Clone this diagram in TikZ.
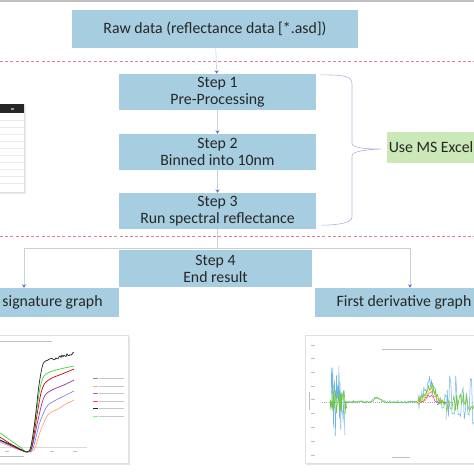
\documentclass[tikz,border=0pt]{standalone}
\usepackage{fontspec}
\setmainfont{Carlito}
\usetikzlibrary{arrows.meta, positioning, calc}
\definecolor{stepblue}{RGB}{166,206,224}
\definecolor{excelgreen}{RGB}{202,232,184}
\definecolor{cutred}{RGB}{226,128,136}
\definecolor{linkgray}{RGB}{200,208,222}
\definecolor{tipblue}{RGB}{92,112,212}
\definecolor{bracelilac}{RGB}{178,178,228}
\definecolor{noiseblue}{RGB}{110,180,225}
\definecolor{noisegreen}{RGB}{110,200,60}

\begin{document}
\begin{tikzpicture}[
		x=1pt, y=-1pt,
		>=Stealth,
		font=\fontsize{15.8}{17}\selectfont,
		% Flowchart node styles
		stepbox/.style={
			fill=stepblue, text=black!85,
			align=center, inner sep=0pt,
			minimum width=197pt, minimum height=36pt
		},
		resultbox/.style={
			fill=stepblue, text=black!85,
			inner sep=0pt, minimum height=29pt
		},
		excelbox/.style={
			fill=excelgreen, text=black!85,
			inner sep=0pt, minimum width=88pt, minimum height=31pt
		},
		arrow/.style={draw=linkgray, line width=0.6pt,
			-{Stealth[length=3.5pt, width=4pt, color=tipblue]}},
		cutline/.style={draw=cutred, line width=0.7pt, dash pattern=on 3pt off 2.2pt},
		thumb/.style={fill=white, draw=black!12, line width=0.5pt},
		fakelabel/.style={draw=black!25, line width=0.9pt}
	]

	\useasboundingbox (0,0) rectangle (474,474);
	\fill[black!25] (0,0) rectangle (474,2);

	% Nodes (top to bottom)
	\node[stepbox, minimum width=286pt, minimum height=38pt] (raw) at (215,29)
		{Raw data (reflectance data [*.asd])};
	\node[stepbox] (step1) at (217.5,92) {Step 1\\Pre-Processing};
	\node[stepbox] (step2) at (217.5,152) {Step 2\\Binned into 10nm};
	\node[stepbox] (step3) at (217.5,211) {Step 3\\Run spectral reflectance};
	\node[stepbox, minimum width=193pt, minimum height=37pt] (step4) at (215.5,268.5)
		{Step 4\\End result};

	\node[resultbox, minimum width=133pt] (sig) at (52.5,302.5) {signature graph};
	\node[resultbox, minimum width=178pt] (deriv) at (404,302.5) {First derivative graph};

	\fill[excelgreen] (387,132) rectangle (474,163);
	\node[excelbox] (excel) at (431,147.5) {Use MS Excel};

	% Dashed section lines
	\draw[cutline] (0,61) -- (474,61);
	\draw[cutline] (0,236) -- (474,236);

	% Arrows
	\draw[arrow] (raw)   -- (step1);
	\draw[arrow] (step1) -- (step2);
	\draw[arrow] (step2) -- (step3);

	\coordinate (split) at ($(step3.south)+(0,19)$);
	\draw[draw=linkgray, line width=0.6pt] (step3.south) -- (split);
	\draw[arrow] (split) -| ([xshift=-28.5pt]sig.north);
	\draw[arrow] (split) -| ([xshift=6pt]deriv.north);

	% Brace: steps 1-3 -> MS Excel
	\coordinate (brace-tip) at ($(excel.west)+(-6,1.5)$);
	\draw[bracelilac, line width=0.6pt]
		($(step1.north east)+(4,1)$) .. controls (345,75) and (352,76) .. (352,84)
		-- (352,143) .. controls (352,148) and (365,149) .. (brace-tip)
		.. controls (365,150) and (352,151) .. (352,156)
		-- (352,217) .. controls (352,223) and (338,225) .. ($(step3.south east)+(6,-4)$);

	% Spreadsheet thumbnail
	\fill[black!8] (-4,106) rectangle (26,194);
	\draw[thumb] (-5,104) rectangle (24,192);
	\fill[black!85] (-5,104) rectangle (24,113);
	\fill[black!40] (11,107.5) rectangle (14,109.5);
	\foreach \row in {120,127,...,186}
		\draw[black!8, line width=0.4pt] (-5,\row) -- (24,\row);

	% Reflectance thumbnail
	\fill[black!10] (-4,337) rectangle (130,465);
	\draw[thumb] (-5,335) rectangle (128,463);
	\draw[fakelabel] (0,341) -- (52,341);
	\draw[black!15, line width=0.4pt] (0,447) -- (87,447);
	\foreach \tick in {7,30,52,75}
		\draw[fakelabel, line width=0.7pt] (\tick-2,451.5) -- (\tick+2,451.5);
	\draw[fakelabel, line width=0.7pt] (0,456) -- (24,456);

	\draw[orange!70!red!60, line width=0.6pt] plot[smooth] coordinates
		{(0,442) (14,448) (27,452) (34,450) (40,432) (46,418) (50,413) (58,409) (66,404) (74,400)};
	\draw[blue!55, line width=0.6pt] plot[smooth] coordinates
		{(0,441) (14,447) (27,452) (33,448) (39,425) (44,412) (48,405) (56,400) (66,395) (74,391)};
	\draw[violet!80, line width=0.7pt] plot[smooth] coordinates
		{(0,440) (14,447) (27,452) (32,447) (38,420) (42,403) (46,394) (54,389) (64,385) (74,380)};
	\draw[red!80!black, line width=0.7pt] plot[smooth] coordinates
		{(0,437) (14,446) (27,452) (32,446) (37,415) (41,393) (45,383) (52,378) (62,374) (74,369)};
	\draw[green!80!black!70, line width=0.8pt] plot[smooth] coordinates
		{(0,433) (10,440) (20,447) (27,452) (31,447) (36,415) (40,388) (44,376) (50,372) (60,369) (74,366)};
	\pgfmathsetseed{11}
	\draw[black!85, line width=0.7pt] plot[smooth] coordinates
		{(0,440) (14,446) (27,452) (31,446) (35,420) (39,385) (43,364) (48,360)}
		-- plot[domain=48:74, samples=27] (\x, {360-(\x-48)*0.25+1.6*rand});

	% Legend
	\foreach \ypos/\col in {378/black!45, 386/orange!60, 393/violet!60, 401/red!70, 408/black!85, 416/green!60} {
		\draw[\col, line width=0.8pt] (93,\ypos) -- (98,\ypos);
		\draw[black!22, line width=0.8pt] (99,\ypos) -- (124,\ypos);
	}

	% First derivative thumbnail
	\fill[black!10] (306,337) rectangle (480,465);
	\draw[thumb] (305,335) rectangle (480,463);
	\draw[fakelabel] (382,349) -- (432,349);
	\draw[fakelabel, line width=0.7pt] (392,457) -- (410,457);
	\draw[fakelabel, line width=0.7pt] (309,392) -- (309,410);
	\foreach \tick in {345,358,372,386,399,413,427,441,455}
		\draw[fakelabel, line width=0.6pt] (311,\tick) -- (315,\tick);
	\draw[black!35, line width=0.6pt, dash pattern=on 0.6pt off 1.6pt] (322,402) -- (474,402);

	\pgfmathsetseed{5}
	\draw[noiseblue, line width=0.5pt] plot[domain=331:345, samples=24] (\x, {402+38*rand});
	\draw[noisegreen, line width=0.6pt] plot[domain=330:347, samples=30] (\x, {402+12*rand});
	\draw[noiseblue, line width=0.4pt] plot[domain=346:420, samples=60]
		(\x, {402-4*exp(-((\x-377)/5)^2)+1.5*rand});
	\draw[noisegreen, line width=0.7pt] plot[domain=346:420, samples=60]
		(\x, {402-4*exp(-((\x-377)/5)^2)+1*rand});
	\draw[noiseblue, line width=0.5pt] plot[domain=418:446, samples=30]
		(\x, {402-17*exp(-((\x-430)/7)^2)+9*rand});
	\draw[red!60, line width=0.5pt] plot[domain=418:446, samples=24]
		(\x, {402-9*exp(-((\x-431)/5)^2)+1.5*rand});
	\draw[violet!70, line width=0.5pt] plot[domain=418:446, samples=24]
		(\x, {402-7*exp(-((\x-429)/5)^2)+1.5*rand});
	\draw[yellow!80!orange, line width=0.6pt] plot[domain=418:446, samples=24]
		(\x, {402-13*exp(-((\x-431)/6)^2)+2*rand});
	\draw[noisegreen, line width=0.7pt] plot[domain=418:446, samples=30]
		(\x, {402-16*exp(-((\x-430)/7)^2)+4*rand});
	\draw[noiseblue, line width=0.5pt] plot[domain=446:474, samples=24] (\x, {400+28*rand});
	\draw[noisegreen, line width=0.6pt] plot[domain=446:474, samples=30] (\x, {402+9*rand});

\end{tikzpicture}
\end{document}
